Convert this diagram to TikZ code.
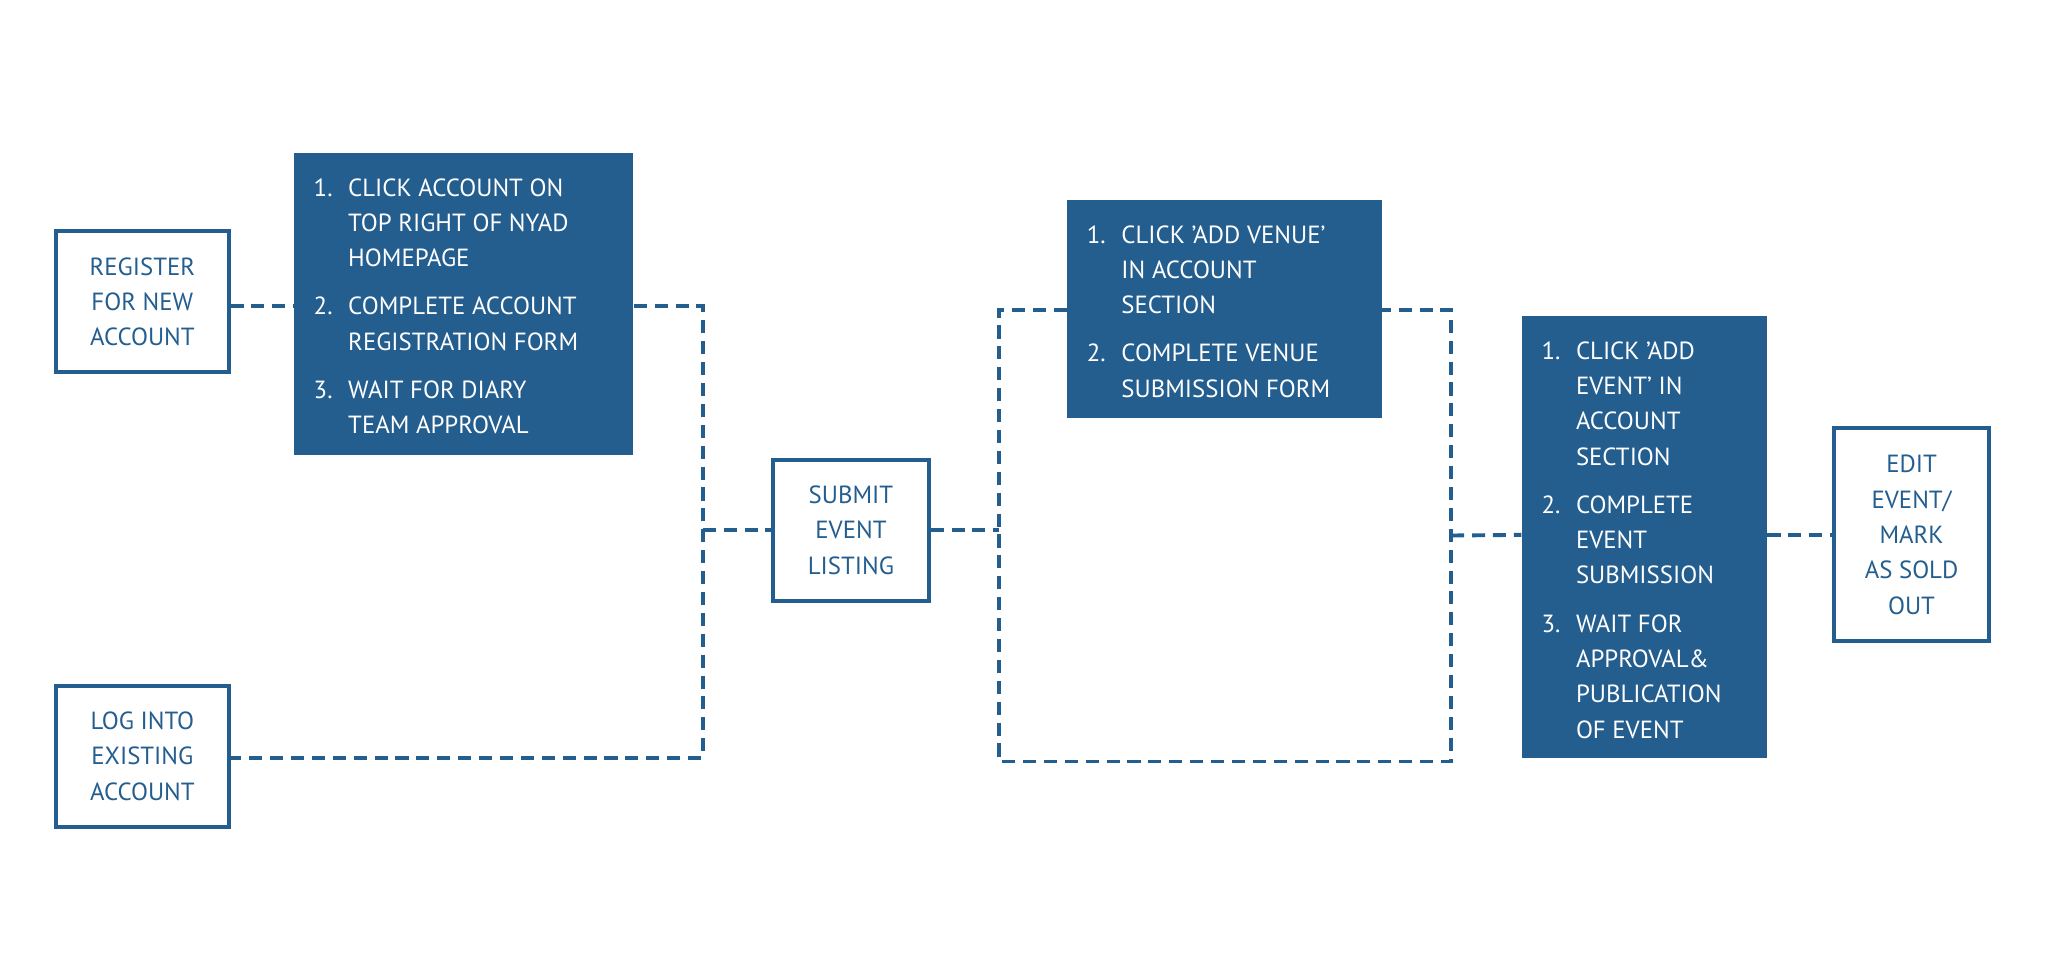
\documentclass[tikz,border=0pt]{standalone}
\usepackage{fontspec}
\setmainfont{PT Sans}
\definecolor{nb}{HTML}{245E8F}
\begin{document}
\begin{tikzpicture}[x=1pt,y=-1pt,
  wbox/.style={draw=nb,line width=3pt,fill=white,text=nb,align=center,font=\fontsize{19}{27}\selectfont,inner sep=0pt},
  bbox/.style={fill=nb,inner sep=0pt},
  btxt/.style={text=white,anchor=north west,inner sep=0pt,font=\fontsize{19}{27}\selectfont},
  dl/.style={draw=nb,line width=3pt,dash pattern=on 10pt off 6pt}]
\useasboundingbox (0,0) rectangle (1568,742);
% blue boxes
\node[bbox,minimum width=260pt,minimum height=231pt] (b1) at (355,232.5) {};
\node[bbox,minimum width=241pt,minimum height=167pt] (b2) at (937.5,236.5) {};
\node[bbox,minimum width=188pt,minimum height=338pt] (b3) at (1259,411) {};
\node[btxt] (t1) at (240,131) {\begin{tabular}{@{}l@{\hspace{12pt}}l@{}}1. & CLICK ACCOUNT ON\\ & TOP RIGHT OF NYAD\\ & HOMEPAGE\\[10pt]
2. & COMPLETE ACCOUNT\\ & REGISTRATION FORM\\[10pt] 3. & WAIT FOR DIARY\\ & TEAM APPROVAL\end{tabular}};
\node[btxt] (t2) at (832,167) {\begin{tabular}{@{}l@{\hspace{12pt}}l@{}}1. & CLICK 'ADD VENUE'\\ & IN ACCOUNT\\ & SECTION\\[10pt]
2. & COMPLETE VENUE\\ & SUBMISSION FORM\end{tabular}};
\node[btxt] (t3) at (1180,256) {\begin{tabular}{@{}l@{\hspace{12pt}}l@{}}1. & CLICK 'ADD\\ & EVENT' IN\\ & ACCOUNT\\ & SECTION\\[10pt]
2. & COMPLETE\\ & EVENT\\ & SUBMISSION\\[10pt] 3. & WAIT FOR\\ & APPROVAL\&\\ & PUBLICATION\\ & OF EVENT\end{tabular}};
% white boxes
\node[wbox,minimum width=132pt,minimum height=108pt] (reg) at (109,231) {REGISTER\\FOR NEW\\ACCOUNT};
\node[wbox,minimum width=132pt,minimum height=108pt] (log) at (109,579) {LOG INTO\\EXISTING\\ACCOUNT};
\node[wbox,minimum width=119pt,minimum height=108pt] (sub) at (651.5,406) {SUBMIT\\EVENT\\LISTING};
\node[wbox,minimum width=119pt,minimum height=163pt] (edit) at (1463.5,409.5) {EDIT\\EVENT/\\MARK\\AS SOLD\\OUT};
% connectors
\coordinate (j1) at (538,234);
\coordinate (j2) at (538,580);
\coordinate (j3) at (765,237);
\coordinate (j4) at (765,583);
\coordinate (j5) at (1111,237);
\coordinate (j6) at (1111,583);
\draw[dl] (reg.east|-j1) -- (b1.west|-j1);
\draw[dl] (b1.east|-j1) -- (j1) -- (j2) -- (log.east|-j2);
\draw[dl] (538,406) -- (sub.west);
\draw[dl] (sub.east) -- (765,406);
\draw[dl] (b2.west|-j3) -- (j3) -- (j4) -- (j6) -- (j5) -- (b2.east|-j5);
\draw[dl] (1111,410) -- (b3.west|-edit.west);
\draw[dl] (b3.east|-edit.west) -- (edit.west);
\end{tikzpicture}
\end{document}
